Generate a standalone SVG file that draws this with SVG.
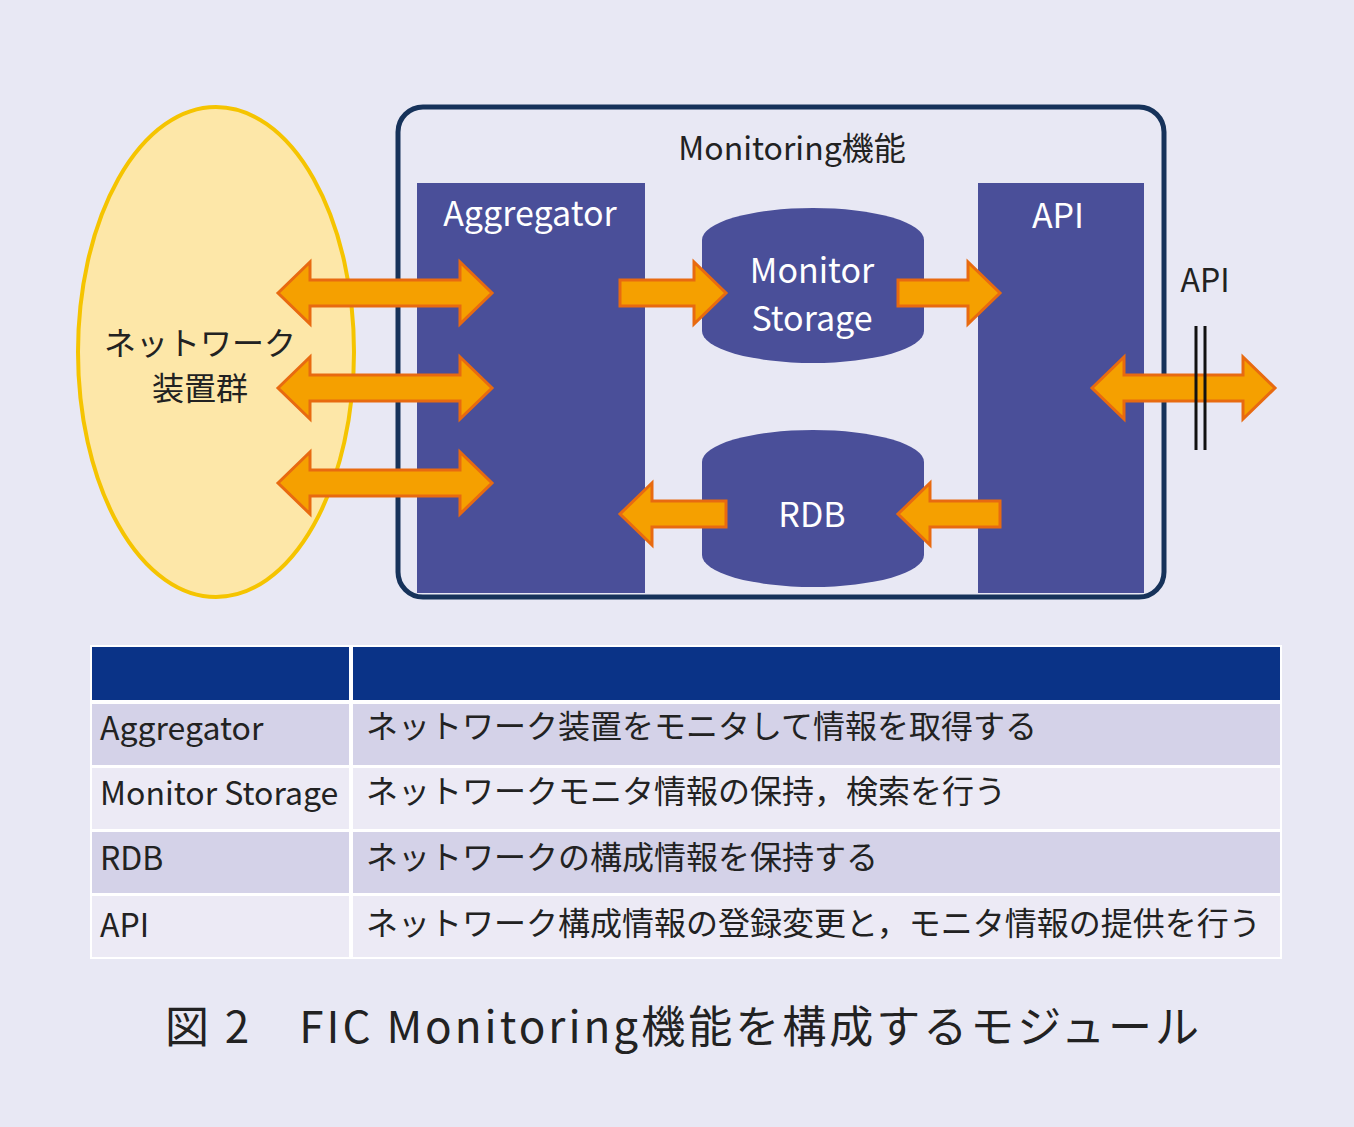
<svg xmlns="http://www.w3.org/2000/svg" width="1354" height="1127" viewBox="0 0 1354 1127">
<defs>
<style>
.t{font-family:"Noto Sans CJK JP","Noto Sans",sans-serif;}
.w{fill:#fff;font-size:34px;text-anchor:middle;}
.ar{fill:#f5a000;stroke:#e86a10;stroke-width:3;stroke-linejoin:miter;}
.blk{fill:#4a4f99;}
.tb{font-size:32px;fill:#222;}
</style>
</defs>
<rect width="1354" height="1127" fill="#e8e8f4"/>
<g id="devices">
<ellipse cx="216" cy="352" rx="138" ry="245" fill="#fde7a8" stroke="#f5c400" stroke-width="4"/>
<text class="t" x="200" y="355" font-size="32" fill="#222" text-anchor="middle">ネットワーク</text>
<text class="t" x="200" y="400" font-size="32" fill="#222" text-anchor="middle">装置群</text>
</g>
<g id="monitoring">
<rect x="398" y="107" width="766" height="490" rx="25" fill="#e8e8f4" stroke="#16325a" stroke-width="5"/>
<text class="t" x="792" y="160" font-size="32" fill="#222" text-anchor="middle">Monitoring機能</text>
</g>
<g id="aggregator">
<rect class="blk" x="417" y="183" width="228" height="410"/>
<text class="t w" x="530" y="226">Aggregator</text>
</g>
<g id="api">
<rect class="blk" x="978" y="183" width="166" height="410"/>
<text class="t w" x="1058" y="228">API</text>
</g>
<g id="storage">
<path class="blk" d="M702 240 A111 32 0 0 1 924 240 V331 A111 32 0 0 1 702 331 Z"/>
<text class="t w" x="812" y="283">Monitor</text>
<text class="t w" x="812" y="331">Storage</text>
</g>
<g id="rdb">
<path class="blk" d="M702 462 A111 32 0 0 1 924 462 V555 A111 32 0 0 1 702 555 Z"/>
<text class="t w" x="812" y="527">RDB</text>
</g>
<g id="connectors">
<path class="ar" d="M278 293 L310 262 V280 H460 V262 L492 293 L460 324 V306 H310 V324 Z"/>
<path class="ar" d="M278 388 L310 357 V375 H460 V357 L492 388 L460 419 V401 H310 V419 Z"/>
<path class="ar" d="M278 483 L310 452 V470 H460 V452 L492 483 L460 514 V496 H310 V514 Z"/>
<path class="ar" d="M620 280 H694 V262 L726 293 L694 324 V306 H620 Z"/>
<path class="ar" d="M898 280 H968 V262 L1000 293 L968 324 V306 H898 Z"/>
<path class="ar" d="M726 501 H652 V483 L620 514 L652 545 V527 H726 Z"/>
<path class="ar" d="M1000 501 H930 V483 L898 514 L930 545 V527 H1000 Z"/>
<path class="ar" d="M1092 388 L1124 357 V375 H1243 V357 L1275 388 L1243 419 V401 H1124 V419 Z"/>
<line x1="1196" y1="326" x2="1196" y2="450" stroke="#111" stroke-width="3"/>
<line x1="1205" y1="326" x2="1205" y2="450" stroke="#111" stroke-width="3"/>
<text class="t" x="1205" y="292" font-size="32" fill="#222" text-anchor="middle">API</text>
</g>
<g id="table">
<rect x="90" y="645" width="1192" height="314" fill="#fff"/>
<rect x="92" y="647" width="257" height="53" fill="#0a3387"/>
<rect x="353" y="647" width="927" height="53" fill="#0a3387"/>
<rect x="92" y="704" width="257" height="61" fill="#d4d2e8"/><rect x="353" y="704" width="927" height="61" fill="#d4d2e8"/>
<rect x="92" y="768" width="257" height="61" fill="#eceaf5"/><rect x="353" y="768" width="927" height="61" fill="#eceaf5"/>
<rect x="92" y="832" width="257" height="61" fill="#d4d2e8"/><rect x="353" y="832" width="927" height="61" fill="#d4d2e8"/>
<rect x="92" y="896" width="257" height="61" fill="#eceaf5"/><rect x="353" y="896" width="927" height="61" fill="#eceaf5"/>
<text class="t tb" x="100" y="740">Aggregator</text>
<text class="t tb" x="100" y="805">Monitor Storage</text>
<text class="t tb" x="100" y="870">RDB</text>
<text class="t tb" x="100" y="937">API</text>
<text class="t tb" x="366" y="738">ネットワーク装置をモニタして情報を取得する</text>
<text class="t tb" x="366" y="803">ネットワークモニタ情報の保持，検索を行う</text>
<text class="t tb" x="366" y="869">ネットワークの構成情報を保持する</text>
<text class="t tb" x="366" y="935">ネットワーク構成情報の登録変更と，モニタ情報の提供を行う</text>
</g>
<text class="t" x="165" y="1043" font-size="44" fill="#222" letter-spacing="3">図 2　FIC Monitoring機能を構成するモジュール</text>
</svg>
